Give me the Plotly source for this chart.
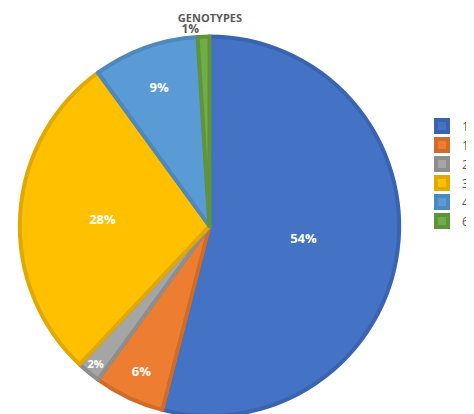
import plotly.graph_objects as go

labels = ["1a", "1b", "2", "3", "4", "6"]
values = [54, 6, 2, 28, 9, 1]
colors = ["#4472C4", "#ED7D31", "#A5A5A5", "#FFC000", "#5B9BD5", "#70AD47"]
edges = ["#3A64AF", "#D06C28", "#8E8E8E", "#E0A800", "#4F88BC", "#5E953B"]

fig = go.Figure(go.Pie(
    labels=labels,
    values=values,
    sort=False,
    direction="clockwise",
    rotation=0,
    marker=dict(colors=colors, line=dict(color=edges, width=4)),
    texttemplate="%{percent:.0%}",
    textposition=["inside", "inside", "inside", "inside", "inside", "outside"],
    insidetextorientation="horizontal",
    textfont=dict(family="Open Sans", size=13, color="white", weight="bold"),
    outsidetextfont=dict(family="Open Sans", size=12, color="#595959", weight="bold"),
    domain=dict(x=[0.025, 0.827], y=[0.014, 0.932]),
    hoverinfo="label+percent",
    showlegend=True,
))

fig.update_layout(
    width=474, height=414,
    margin=dict(l=0, r=0, t=0, b=0),
    paper_bgcolor="white",
    title=dict(text="<b>GENOTYPES</b>", x=0.426, xanchor="center", y=0.975, yanchor="middle",
               font=dict(family="Open Sans", size=11, color="#595959")),
    legend=dict(x=0.875, y=0.6, xanchor="left", yanchor="middle",
                font=dict(family="Open Sans", size=12, color="#595959"),
                itemwidth=30),
)

fig.write_html("out.html")
